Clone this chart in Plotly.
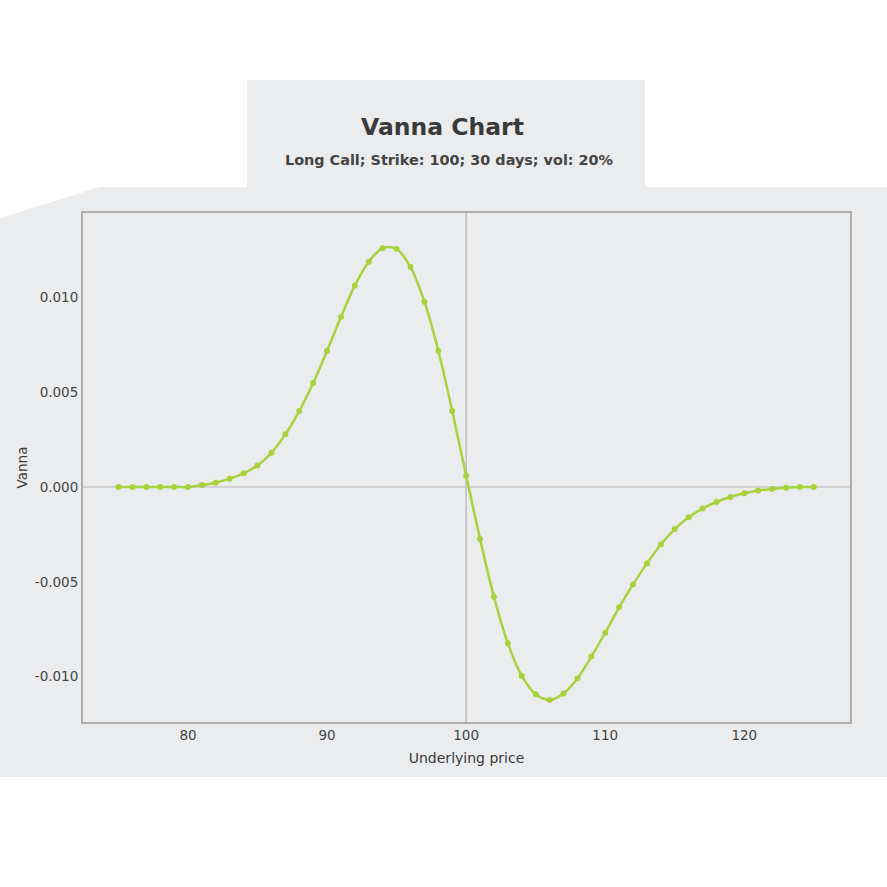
import plotly.graph_objects as go

price = list(range(75, 126))
vanna = [
    0.0, 0.0, 0.0, 0.0, 0.0, 0.0, 0.0001, 0.00023, 0.00044, 0.00072,
    0.00114, 0.00181, 0.00278, 0.00401, 0.00549, 0.00719, 0.00897, 0.01064, 0.01189, 0.0126,
    0.01256, 0.01161, 0.00978, 0.00719, 0.00401, 0.0006, -0.00274, -0.00579, -0.00825, -0.00997,
    -0.01094, -0.01124, -0.01089, -0.0101, -0.00895, -0.00769, -0.00635, -0.00514, -0.00403, -0.00303,
    -0.00222, -0.0016, -0.00113, -0.00079, -0.00053, -0.00033, -0.00018, -0.0001, -0.00004, 0.0, 0.0,
]
strike = 100
x_ticks = [80, 90, 100, 110, 120]
y_ticks = [-0.010, -0.005, 0.000, 0.005, 0.010]
y_tick_labels = ["-0.010", "-0.005", "0.000", "0.005", "0.010"]

W, H = 887, 887
L, R, T, B = 83, 850, 213, 722
GREY = "#ebecee"
FONT = "DejaVu Sans"


def px(x):
    return (x - L) / (R - L)


def py(y):
    return (B - y) / (B - T)


fig = go.Figure()
fig.add_trace(go.Scatter(
    x=price, y=vanna, mode="lines+markers",
    line=dict(color="#a6d23c", width=2.5, shape="spline"),
    marker=dict(color="#a6d23c", size=6),
    showlegend=False,
))

shapes = [
    # grey panel with slanted top-left corner
    dict(type="path", xref="paper", yref="paper", layer="below",
         path=f"M {px(0)},{py(218)} L {px(100)},{py(187)} L {px(887)},{py(187)} "
              f"L {px(887)},{py(777)} L {px(0)},{py(777)} Z",
         fillcolor=GREY, line=dict(width=0)),
    # title box
    dict(type="rect", xref="paper", yref="paper", layer="below",
         x0=px(247), x1=px(645), y0=py(187), y1=py(80),
         fillcolor=GREY, line=dict(width=0)),
    # strike line
    dict(type="line", xref="x", yref="paper", x0=strike, x1=strike, y0=0, y1=1,
         line=dict(color="#bdbdbd", width=1.5), layer="below"),
    # zero line
    dict(type="line", xref="paper", yref="y", x0=0, x1=1, y0=0, y1=0,
         line=dict(color="#c8c8c8", width=1.5), layer="below"),
]

annotations = [
    dict(text="<b>Vanna Chart</b>", xref="paper", yref="paper", x=px(442), y=py(127),
         showarrow=False, font=dict(family=FONT, size=23.5, color="#3a3a3a"),
         xanchor="center", yanchor="middle"),
    dict(text="<b>Long Call; Strike: 100; 30 days; vol: 20%</b>", xref="paper", yref="paper",
         x=px(449), y=py(160), showarrow=False,
         font=dict(family=FONT, size=14.4, color="#444444"),
         xanchor="center", yanchor="middle"),
]

fig.update_layout(
    width=W, height=H,
    margin=dict(l=L, r=W - R, t=T, b=H - B),
    paper_bgcolor="white",
    plot_bgcolor=GREY,
    shapes=shapes,
    annotations=annotations,
    font=dict(family=FONT, color="#444444"),
    xaxis=dict(
        range=[72.45, 127.6], tickvals=x_ticks, ticktext=[str(v) for v in x_ticks],
        showgrid=False, zeroline=False, showline=True, mirror=True,
        linecolor="#aeaeae", linewidth=2, ticks="",
        tickfont=dict(size=13.5, color="#444444"),
        title=dict(text="Underlying price", font=dict(size=14, color="#3a3a3a"), standoff=11),
    ),
    yaxis=dict(
        range=[-0.0124, 0.01446], tickvals=y_ticks, ticktext=y_tick_labels,
        showgrid=False, zeroline=False, showline=True, mirror=True,
        linecolor="#aeaeae", linewidth=2, ticks="",
        tickfont=dict(size=13.5, color="#444444"),
        title=dict(text="Vanna", font=dict(size=13.5, color="#3a3a3a"), standoff=4),
    ),
)

fig.write_html("out.html", config={"displayModeBar": False},
               post_script="document.body.style.margin='0';")
